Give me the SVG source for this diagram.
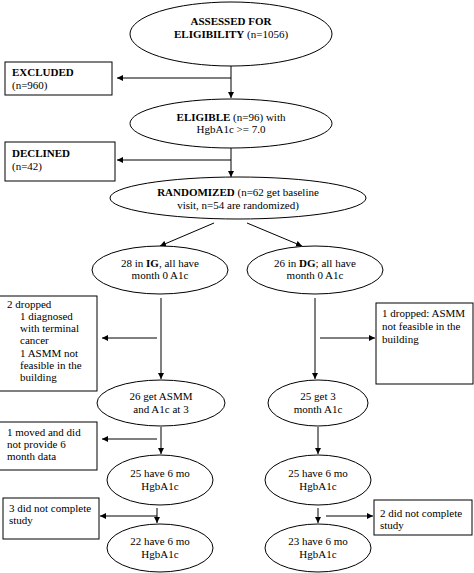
<svg xmlns="http://www.w3.org/2000/svg" width="474" height="573" viewBox="0 0 474 573">
<defs>
<marker id="ah" viewBox="0 0 10 10" refX="10" refY="5" markerWidth="6" markerHeight="6" orient="auto" markerUnits="userSpaceOnUse">
<path d="M0,0 L10,5 L0,10 z" fill="#000"/>
</marker>
<style>
.n{fill:#fff;stroke:#000;stroke-width:1}
.c{fill:none;stroke:#000;stroke-width:1}
.a{marker-end:url(#ah)}
text{font-family:"Liberation Serif","Times New Roman",serif;font-size:11px;fill:#000}
.m{text-anchor:middle}
.b{font-weight:bold}
</style>
</defs>
<rect width="474" height="573" fill="#fff"/>
<g id="connectors">
<line class="c a" x1="231" y1="66" x2="231" y2="98"/>
<line class="c a" x1="231" y1="78" x2="117" y2="78"/>
<line class="c a" x1="231" y1="148" x2="231" y2="177"/>
<line class="c a" x1="231" y1="160" x2="117" y2="160"/>
<line class="c a" x1="214" y1="223" x2="160" y2="246"/>
<line class="c a" x1="247" y1="223" x2="302" y2="246"/>
<line class="c a" x1="161" y1="298" x2="161" y2="379"/>
<line class="c a" x1="157" y1="338" x2="102" y2="338"/>
<line class="c a" x1="315" y1="298" x2="315" y2="379"/>
<line class="c a" x1="320" y1="338" x2="375" y2="338"/>
<line class="c a" x1="161" y1="427" x2="161" y2="454"/>
<line class="c a" x1="157" y1="439" x2="102" y2="439"/>
<line class="c a" x1="318" y1="427" x2="318" y2="454"/>
<line class="c a" x1="157" y1="508" x2="157" y2="523"/>
<line class="c a" x1="157" y1="516" x2="100" y2="516"/>
<line class="c a" x1="318" y1="508" x2="318" y2="523"/>
<line class="c a" x1="326" y1="516" x2="373" y2="516"/>
</g>
<g id="assessed">
<ellipse class="n" cx="231" cy="34" rx="101" ry="32"/>
<text class="m b" x="231" y="25">ASSESSED FOR</text>
<text class="m" x="231" y="38"><tspan class="b">ELIGIBILITY</tspan> (n=1056)</text>
</g>
<g id="excluded">
<rect class="n" x="5" y="62" width="107" height="33"/>
<text class="b" x="12" y="76">EXCLUDED</text>
<text x="12" y="89">(n=960)</text>
</g>
<g id="eligible">
<ellipse class="n" cx="231" cy="123.5" rx="101" ry="24.5"/>
<text class="m" x="231" y="121"><tspan class="b">ELIGIBLE</tspan> (n=96) with</text>
<text class="m" x="231" y="133">HgbA1c &gt;= 7.0</text>
</g>
<g id="declined">
<rect class="n" x="5" y="142" width="110" height="39"/>
<text class="b" x="12" y="157">DECLINED</text>
<text x="12" y="170">(n=42)</text>
</g>
<g id="randomized">
<ellipse class="n" cx="238" cy="198" rx="128" ry="21"/>
<text class="m" x="238" y="196"><tspan class="b">RANDOMIZED</tspan> (n=62 get baseline</text>
<text class="m" x="238" y="209">visit, n=54 are randomized)</text>
</g>
<g id="ig">
<ellipse class="n" cx="160" cy="270" rx="68" ry="24"/>
<text class="m" x="160" y="267">28 in <tspan class="b">IG</tspan>, all have</text>
<text class="m" x="160" y="279">month 0 A1c</text>
</g>
<g id="dg">
<ellipse class="n" cx="315" cy="270" rx="68" ry="24"/>
<text class="m" x="315" y="267">26 in <tspan class="b">DG</tspan>; all have</text>
<text class="m" x="315" y="279">month 0 A1c</text>
</g>
<g id="ig-dropped">
<rect class="n" x="-1" y="296" width="98" height="95"/>
<text x="7" y="308">2 dropped</text>
<text x="20" y="320">1 diagnosed</text>
<text x="20" y="332">with terminal</text>
<text x="20" y="344">cancer</text>
<text x="20" y="357">1 ASMM not</text>
<text x="20" y="369">feasible in the</text>
<text x="20" y="381">building</text>
</g>
<g id="dg-dropped">
<rect class="n" x="376" y="303" width="97" height="81"/>
<text x="382" y="317">1 dropped: ASMM</text>
<text x="382" y="330">not feasible in the</text>
<text x="382" y="343">building</text>
</g>
<g id="ig-3mo">
<ellipse class="n" cx="161" cy="403" rx="64" ry="23"/>
<text class="m" x="161" y="400">26 get ASMM</text>
<text class="m" x="161" y="413">and A1c at 3</text>
</g>
<g id="dg-3mo">
<ellipse class="n" cx="318" cy="403" rx="50" ry="23"/>
<text class="m" x="318" y="400">25 get 3</text>
<text class="m" x="318" y="413">month A1c</text>
</g>
<g id="ig-moved">
<rect class="n" x="-1" y="422" width="98" height="48"/>
<text x="7" y="436">1 moved and did</text>
<text x="7" y="448">not provide 6</text>
<text x="7" y="460">month data</text>
</g>
<g id="ig-6mo">
<ellipse class="n" cx="160" cy="480" rx="53" ry="25"/>
<text class="m" x="160" y="477">25 have 6 mo</text>
<text class="m" x="160" y="490">HgbA1c</text>
</g>
<g id="dg-6mo">
<ellipse class="n" cx="318" cy="480" rx="53" ry="25"/>
<text class="m" x="318" y="477">25 have 6 mo</text>
<text class="m" x="318" y="490">HgbA1c</text>
</g>
<g id="ig-incomplete">
<rect class="n" x="3" y="498" width="96" height="41"/>
<text x="9" y="512">3 did not complete</text>
<text x="9" y="524">study</text>
</g>
<g id="dg-incomplete">
<rect class="n" x="374" y="500" width="98" height="35"/>
<text x="380" y="517">2 did not complete</text>
<text x="380" y="529">study</text>
</g>
<g id="ig-final">
<ellipse class="n" cx="160" cy="548" rx="53" ry="24"/>
<text class="m" x="160" y="545">22 have 6 mo</text>
<text class="m" x="160" y="558">HgbA1c</text>
</g>
<g id="dg-final">
<ellipse class="n" cx="318" cy="548" rx="53" ry="24"/>
<text class="m" x="318" y="545">23 have 6 mo</text>
<text class="m" x="318" y="558">HgbA1c</text>
</g>
</svg>
